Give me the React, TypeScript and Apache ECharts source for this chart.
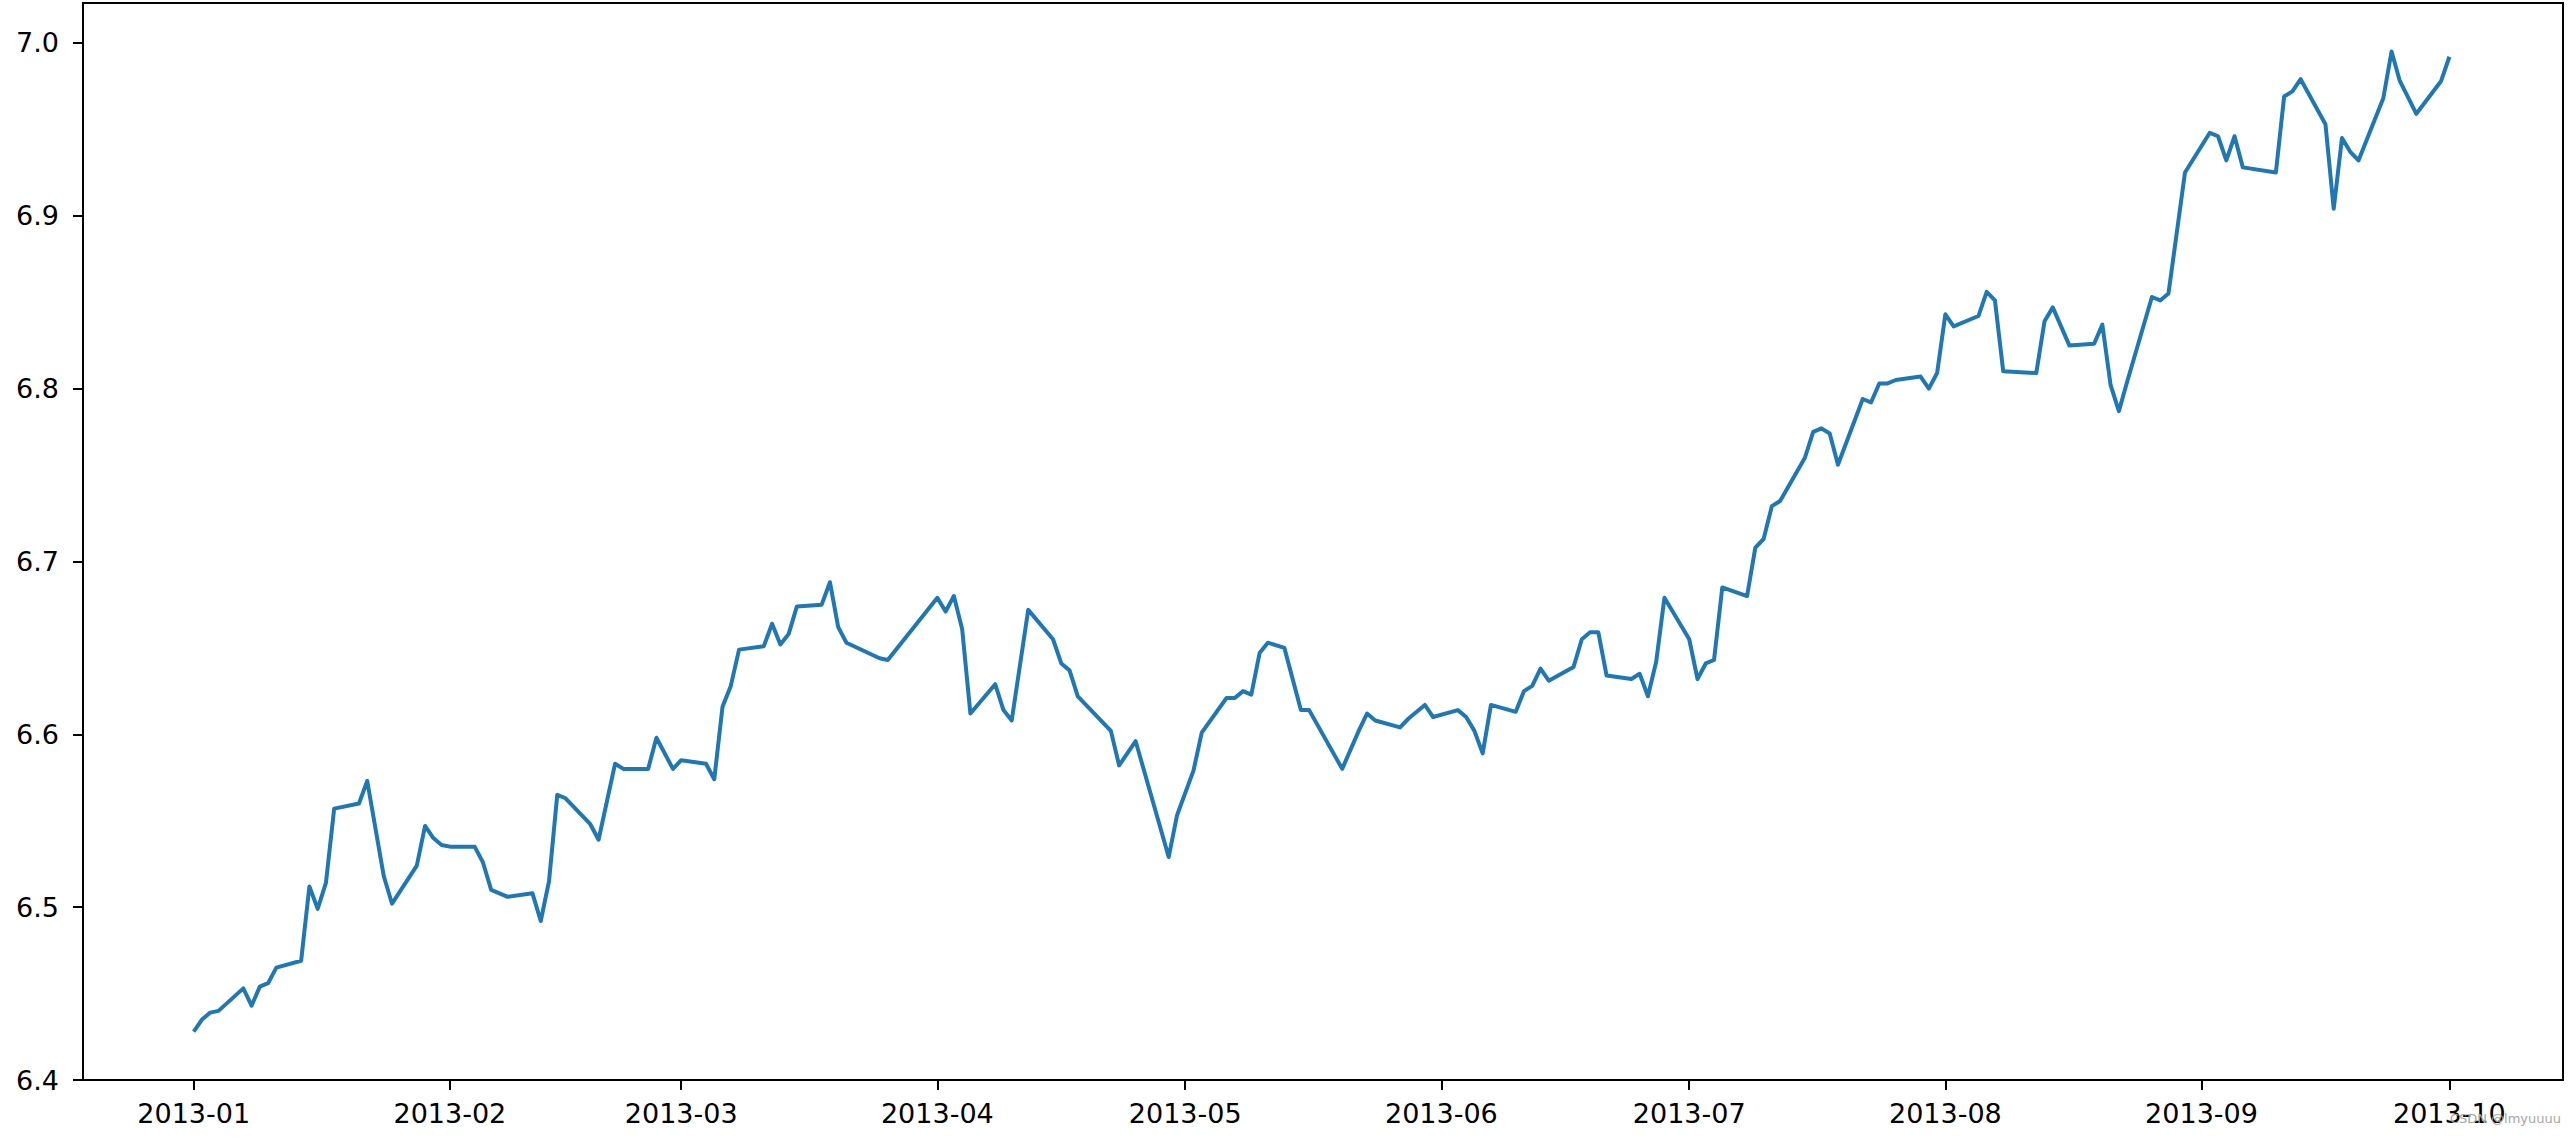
import React, { useEffect, useRef } from "react";
import * as echarts from "echarts";

const dates: string[] = [
  "2013-01-01","2013-01-02","2013-01-03","2013-01-04","2013-01-07","2013-01-08","2013-01-09","2013-01-10","2013-01-11",
  "2013-01-14","2013-01-15","2013-01-16","2013-01-17","2013-01-18","2013-01-21","2013-01-22","2013-01-24","2013-01-25",
  "2013-01-28","2013-01-29","2013-01-30","2013-01-31","2013-02-01","2013-02-04","2013-02-05","2013-02-06","2013-02-08",
  "2013-02-11","2013-02-12","2013-02-13","2013-02-14","2013-02-15","2013-02-18","2013-02-19","2013-02-21","2013-02-22",
  "2013-02-25","2013-02-26","2013-02-28","2013-03-01","2013-03-04","2013-03-05","2013-03-06","2013-03-07","2013-03-08",
  "2013-03-11","2013-03-12","2013-03-13","2013-03-14","2013-03-15","2013-03-18","2013-03-19","2013-03-20","2013-03-21",
  "2013-03-25","2013-03-26","2013-04-01","2013-04-02","2013-04-03","2013-04-04","2013-04-05","2013-04-08","2013-04-09",
  "2013-04-10","2013-04-12","2013-04-15","2013-04-16","2013-04-17","2013-04-18","2013-04-22","2013-04-23","2013-04-25",
  "2013-04-29","2013-04-30","2013-05-02","2013-05-03","2013-05-06","2013-05-07","2013-05-08","2013-05-09","2013-05-10",
  "2013-05-11","2013-05-13","2013-05-15","2013-05-16","2013-05-20","2013-05-22","2013-05-23","2013-05-24","2013-05-27",
  "2013-05-28","2013-05-30","2013-05-31","2013-06-03","2013-06-04","2013-06-05","2013-06-06","2013-06-07","2013-06-10",
  "2013-06-11","2013-06-12","2013-06-13","2013-06-14","2013-06-17","2013-06-18","2013-06-19","2013-06-20","2013-06-21",
  "2013-06-24","2013-06-25","2013-06-26","2013-06-27","2013-06-28","2013-07-01","2013-07-02","2013-07-03","2013-07-04",
  "2013-07-05","2013-07-08","2013-07-09","2013-07-10","2013-07-11","2013-07-12","2013-07-15","2013-07-16","2013-07-17",
  "2013-07-18","2013-07-19","2013-07-22","2013-07-23","2013-07-24","2013-07-25","2013-07-26","2013-07-29","2013-07-30",
  "2013-07-31","2013-08-01","2013-08-02","2013-08-05","2013-08-06","2013-08-07","2013-08-08","2013-08-12","2013-08-13",
  "2013-08-14","2013-08-16","2013-08-19","2013-08-20","2013-08-21","2013-08-22","2013-08-23","2013-08-26","2013-08-27",
  "2013-08-28","2013-08-30","2013-09-02","2013-09-03","2013-09-04","2013-09-05","2013-09-06","2013-09-10","2013-09-11",
  "2013-09-12","2013-09-13","2013-09-16","2013-09-17","2013-09-18","2013-09-19","2013-09-20","2013-09-23","2013-09-24",
  "2013-09-25","2013-09-27","2013-09-30","2013-10-01",
];

const values: number[] = [
  6.428, 6.435, 6.439, 6.440, 6.453, 6.443, 6.454, 6.456, 6.465,
  6.469, 6.512, 6.499, 6.514, 6.557, 6.560, 6.573, 6.518, 6.502,
  6.524, 6.547, 6.540, 6.536, 6.535, 6.535, 6.526, 6.510, 6.506,
  6.508, 6.492, 6.515, 6.565, 6.563, 6.548, 6.539, 6.583, 6.580,
  6.580, 6.598, 6.580, 6.585, 6.583, 6.574, 6.616, 6.628, 6.649,
  6.651, 6.664, 6.652, 6.658, 6.674, 6.675, 6.688, 6.662, 6.653,
  6.644, 6.643, 6.679, 6.671, 6.680, 6.661, 6.612, 6.629, 6.614,
  6.608, 6.672, 6.655, 6.641, 6.637, 6.622, 6.602, 6.582, 6.596,
  6.529, 6.553, 6.579, 6.601, 6.621, 6.621, 6.625, 6.623, 6.647,
  6.653, 6.650, 6.614, 6.614, 6.580, 6.602, 6.612, 6.608, 6.604,
  6.609, 6.617, 6.610, 6.614, 6.610, 6.602, 6.589, 6.617, 6.613,
  6.625, 6.628, 6.638, 6.631, 6.639, 6.655, 6.659, 6.659, 6.634,
  6.632, 6.635, 6.622, 6.642, 6.679, 6.655, 6.632, 6.641, 6.643,
  6.685, 6.680, 6.708, 6.713, 6.732, 6.735, 6.760, 6.775, 6.777,
  6.774, 6.756, 6.794, 6.792, 6.803, 6.803, 6.805, 6.807, 6.800,
  6.809, 6.843, 6.836, 6.842, 6.856, 6.851, 6.810, 6.809, 6.839,
  6.847, 6.825, 6.826, 6.837, 6.802, 6.787, 6.804, 6.853, 6.851,
  6.855, 6.925, 6.948, 6.946, 6.932, 6.946, 6.928, 6.925, 6.969,
  6.972, 6.979, 6.953, 6.904, 6.945, 6.937, 6.932, 6.968, 6.995,
  6.978, 6.959, 6.978, 6.992,
];

const xTickDates: string[] = [
  "2013-01-01","2013-02-01","2013-03-01","2013-04-01","2013-05-01",
  "2013-06-01","2013-07-01","2013-08-01","2013-09-01","2013-10-01",
];
const yTicks: number[] = [6.4, 6.5, 6.6, 6.7, 6.8, 6.9, 7.0];

const DAY = 86400000;
function ts(s: string): number {
  const [y, m, d] = s.split("-").map(Number);
  return Date.UTC(y, m - 1, d);
}
function pad(n: number): string {
  return n < 10 ? "0" + n : String(n);
}

export default function App() {
  const ref = useRef<HTMLDivElement>(null);
  useEffect(() => {
    if (!ref.current) return;
    const chart = echarts.init(ref.current, undefined, { renderer: "svg" });
    const seriesData = dates.map((d, i) => [ts(d), values[i]]);
    const xMin = ts("2013-01-01") - 13.4 * DAY;
    const xMax = ts("2013-10-01") + 13.75 * DAY;
    const font = "DejaVu Sans";
    chart.setOption({
      animation: false,
      backgroundColor: "#ffffff",
      grid: {
        left: 83,
        top: 3,
        width: 2480,
        height: 1077,
        show: true,
        borderColor: "#000000",
        borderWidth: 2,
        backgroundColor: "transparent",
      },
      xAxis: {
        type: "value",
        min: xMin,
        max: xMax,
        splitLine: { show: false },
        axisLine: { show: true, lineStyle: { color: "#000000", width: 2 } },
        axisTick: {
          show: true,
          length: 10,
          inside: false,
          lineStyle: { color: "#000000", width: 2 },
          customValues: xTickDates.map(ts),
        },
        axisLabel: {
          show: true,
          margin: 20,
          color: "#000000",
          fontFamily: font,
          fontSize: 27,
          customValues: xTickDates.map(ts),
          formatter: (v: number) => {
            const d = new Date(v);
            return d.getUTCFullYear() + "-" + pad(d.getUTCMonth() + 1);
          },
        },
      },
      yAxis: {
        type: "value",
        min: 6.4,
        max: 7.0231,
        splitLine: { show: false },
        axisLine: { show: true, lineStyle: { color: "#000000", width: 2 } },
        axisTick: {
          show: true,
          length: 10,
          inside: false,
          lineStyle: { color: "#000000", width: 2 },
          customValues: yTicks,
        },
        axisLabel: {
          show: true,
          margin: 24,
          color: "#000000",
          fontFamily: font,
          fontSize: 27,
          customValues: yTicks,
          formatter: (v: number) => v.toFixed(1),
        },
      },
      series: [
        {
          type: "line",
          data: seriesData,
          showSymbol: false,
          symbol: "none",
          lineStyle: { color: "#1f77b4", width: 4, join: "round", cap: "butt" },
          itemStyle: { color: "#1f77b4" },
        },
      ],
      graphic: [
        {
          type: "text",
          right: 14,
          top: 1112,
          style: {
            text: "CSDN @lmyuuuu",
            fill: "#a6a6a6",
            font: "13px 'DejaVu Sans'",
          },
          z: 100,
        },
      ],
    });
    return () => chart.dispose();
  }, []);
  return (
    <div
      ref={ref}
      style={{ position: "absolute", left: 0, top: 0, width: 2575, height: 1137 }}
    />
  );
}
